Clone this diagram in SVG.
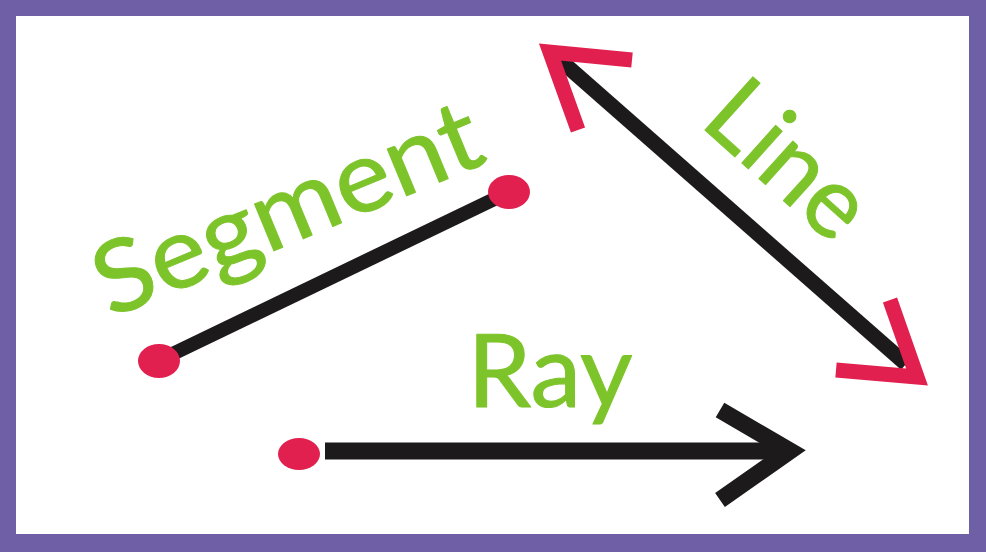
<svg xmlns="http://www.w3.org/2000/svg" width="986" height="552" viewBox="0 0 986 552">
<style>
.lbl{font-family:Lato,"DejaVu Sans",sans-serif;font-size:100px;fill:#7dc42b;stroke:#7dc42b;stroke-width:1;stroke-linejoin:round;text-anchor:middle}
.blk{stroke:#1c1a1b;fill:none;stroke-linecap:butt}
.red{stroke:#e2204f;fill:none;stroke-width:15;stroke-linejoin:miter;stroke-miterlimit:10}
.dot{fill:#e2204f}
</style>
<rect x="0" y="0" width="986" height="552" fill="#6e5fa6"/>
<rect x="16" y="16" width="953" height="518" fill="#ffffff"/>
<g id="connectors">
<line class="blk" x1="160" y1="360" x2="509" y2="192" stroke-width="14"/>
<line class="blk" x1="325" y1="451" x2="790" y2="451" stroke-width="17"/>
<path class="blk" d="M720,410 L790,451 L720,500" stroke-width="17" stroke-linejoin="miter"/>
<line class="blk" x1="560" y1="60" x2="906" y2="364" stroke-width="15"/>
<path class="red" d="M632,60 L550,52 L578,130"/>
<path class="red" d="M890,300 L917,377 L836,370"/>
</g>
<g id="segment">
<ellipse class="dot" cx="159" cy="361" rx="21" ry="17"/>
<ellipse class="dot" cx="509" cy="192" rx="21" ry="17"/>
<text class="lbl" transform="translate(300,240) rotate(-22.5)" textLength="410" lengthAdjust="spacingAndGlyphs">Segment</text>
</g>
<g id="ray">
<ellipse class="dot" cx="299" cy="454" rx="21" ry="16"/>
<text class="lbl" x="550" y="407" textLength="165" lengthAdjust="spacingAndGlyphs">Ray</text>
</g>
<g id="line">
<text class="lbl" transform="translate(766,185) rotate(42)" textLength="182" lengthAdjust="spacingAndGlyphs">Line</text>
</g>
</svg>
